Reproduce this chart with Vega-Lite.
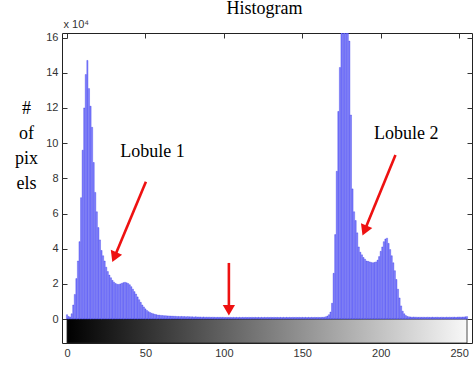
{
  "$schema": "https://vega.github.io/schema/vega-lite/v6.json",
  "width": 410,
  "height": 310,
  "autosize": "none",
  "padding": {"left": 62, "top": 33, "right": 2, "bottom": 39},
  "background": "white",
  "config": {
    "view": {"stroke": "#222", "strokeWidth": 1},
    "font": "Liberation Sans",
    "axis": {"grid": false, "labelFont": "Liberation Sans", "labelFontSize": 11, "labelColor": "#333", "tickColor": "#333", "domain": false}
  },
  "datasets": {
    "one": [{"k": 1}],
    "hist": [
      {"v":0,"n":0.25},{"v":1,"n":0.15},{"v":2,"n":0.12},{"v":3,"n":0.3},{"v":4,"n":0.8},{"v":5,"n":1.4},{"v":6,"n":2.3},{"v":7,"n":3.3},{"v":8,"n":4.4},{"v":9,"n":6.9},
      {"v":10,"n":9.6},{"v":11,"n":12.0},{"v":12,"n":13.9},{"v":13,"n":14.7},{"v":14,"n":13.1},{"v":15,"n":12.1},{"v":16,"n":10.9},{"v":17,"n":8.9},{"v":18,"n":7.2},{"v":19,"n":6.1},
      {"v":20,"n":5.2},{"v":21,"n":4.5},{"v":22,"n":3.9},{"v":23,"n":3.6},{"v":24,"n":3.3},{"v":25,"n":2.95},{"v":26,"n":2.7},{"v":27,"n":2.5},{"v":28,"n":2.35},{"v":29,"n":2.2},
      {"v":30,"n":2.1},{"v":31,"n":2.02},{"v":32,"n":1.98},{"v":33,"n":1.97},{"v":34,"n":2.0},{"v":35,"n":2.03},{"v":36,"n":2.07},{"v":37,"n":2.09},{"v":38,"n":2.06},{"v":39,"n":2.02},
      {"v":40,"n":1.95},{"v":41,"n":1.84},{"v":42,"n":1.7},{"v":43,"n":1.56},{"v":44,"n":1.42},{"v":45,"n":1.26},{"v":46,"n":1.1},{"v":47,"n":0.95},{"v":48,"n":0.8},{"v":49,"n":0.69},
      {"v":50,"n":0.58},{"v":51,"n":0.49},{"v":52,"n":0.42},{"v":53,"n":0.37},{"v":54,"n":0.33},{"v":55,"n":0.3},{"v":56,"n":0.27},{"v":57,"n":0.25},{"v":58,"n":0.23},{"v":59,"n":0.22},
      {"v":60,"n":0.21},{"v":61,"n":0.2},{"v":62,"n":0.19},{"v":63,"n":0.19},{"v":64,"n":0.18},{"v":65,"n":0.18},{"v":66,"n":0.17},{"v":67,"n":0.17},{"v":68,"n":0.16},{"v":69,"n":0.16},
      {"v":70,"n":0.15},{"v":71,"n":0.15},{"v":72,"n":0.14},{"v":73,"n":0.15},{"v":74,"n":0.14},{"v":75,"n":0.14},{"v":76,"n":0.13},{"v":77,"n":0.14},{"v":78,"n":0.13},{"v":79,"n":0.13},
      {"v":80,"n":0.13},{"v":81,"n":0.12},{"v":82,"n":0.13},{"v":83,"n":0.12},{"v":84,"n":0.12},{"v":85,"n":0.12},{"v":86,"n":0.11},{"v":87,"n":0.12},{"v":88,"n":0.11},{"v":89,"n":0.11},
      {"v":90,"n":0.11},{"v":91,"n":0.11},{"v":92,"n":0.1},{"v":93,"n":0.11},{"v":94,"n":0.1},{"v":95,"n":0.1},{"v":96,"n":0.1},{"v":97,"n":0.1},{"v":98,"n":0.1},{"v":99,"n":0.1},
      {"v":100,"n":0.1},{"v":101,"n":0.09},{"v":102,"n":0.1},{"v":103,"n":0.09},{"v":104,"n":0.1},{"v":105,"n":0.09},{"v":106,"n":0.1},{"v":107,"n":0.09},{"v":108,"n":0.1},{"v":109,"n":0.09},
      {"v":110,"n":0.1},{"v":111,"n":0.09},{"v":112,"n":0.1},{"v":113,"n":0.09},{"v":114,"n":0.1},{"v":115,"n":0.09},{"v":116,"n":0.1},{"v":117,"n":0.09},{"v":118,"n":0.1},{"v":119,"n":0.09},
      {"v":120,"n":0.1},{"v":121,"n":0.09},{"v":122,"n":0.1},{"v":123,"n":0.09},{"v":124,"n":0.1},{"v":125,"n":0.09},{"v":126,"n":0.1},{"v":127,"n":0.09},{"v":128,"n":0.1},{"v":129,"n":0.09},
      {"v":130,"n":0.1},{"v":131,"n":0.09},{"v":132,"n":0.1},{"v":133,"n":0.09},{"v":134,"n":0.1},{"v":135,"n":0.09},{"v":136,"n":0.1},{"v":137,"n":0.09},{"v":138,"n":0.1},{"v":139,"n":0.09},
      {"v":140,"n":0.1},{"v":141,"n":0.09},{"v":142,"n":0.1},{"v":143,"n":0.09},{"v":144,"n":0.1},{"v":145,"n":0.09},{"v":146,"n":0.1},{"v":147,"n":0.09},{"v":148,"n":0.1},{"v":149,"n":0.09},
      {"v":150,"n":0.1},{"v":151,"n":0.09},{"v":152,"n":0.1},{"v":153,"n":0.09},{"v":154,"n":0.1},{"v":155,"n":0.09},{"v":156,"n":0.1},{"v":157,"n":0.09},{"v":158,"n":0.1},{"v":159,"n":0.09},
      {"v":160,"n":0.1},{"v":161,"n":0.09},{"v":162,"n":0.1},{"v":163,"n":0.1},{"v":164,"n":0.11},{"v":165,"n":0.13},{"v":166,"n":0.17},{"v":167,"n":0.25},{"v":168,"n":0.4},{"v":169,"n":0.9},
      {"v":170,"n":2.6},{"v":171,"n":4.8},{"v":172,"n":8.4},{"v":173,"n":11.8},{"v":174,"n":14.3},{"v":175,"n":17.5},{"v":176,"n":18.5},{"v":177,"n":18.0},{"v":178,"n":17.2},{"v":179,"n":16.5},
      {"v":180,"n":15.8},{"v":181,"n":11.6},{"v":182,"n":7.4},{"v":183,"n":6.1},{"v":184,"n":5.6},{"v":185,"n":4.9},{"v":186,"n":4.1},{"v":187,"n":3.8},{"v":188,"n":3.65},{"v":189,"n":3.5},
      {"v":190,"n":3.4},{"v":191,"n":3.3},{"v":192,"n":3.28},{"v":193,"n":3.25},{"v":194,"n":3.22},{"v":195,"n":3.2},{"v":196,"n":3.22},{"v":197,"n":3.25},{"v":198,"n":3.35},{"v":199,"n":3.55},
      {"v":200,"n":3.85},{"v":201,"n":4.1},{"v":202,"n":4.4},{"v":203,"n":4.55},{"v":204,"n":4.6},{"v":205,"n":4.3},{"v":206,"n":3.95},{"v":207,"n":3.6},{"v":208,"n":3.2},{"v":209,"n":2.75},
      {"v":210,"n":2.25},{"v":211,"n":1.7},{"v":212,"n":1.2},{"v":213,"n":0.75},{"v":214,"n":0.45},{"v":215,"n":0.3},{"v":216,"n":0.2},{"v":217,"n":0.15},{"v":218,"n":0.13},{"v":219,"n":0.12},
      {"v":220,"n":0.11},{"v":221,"n":0.12},{"v":222,"n":0.11},{"v":223,"n":0.11},{"v":224,"n":0.1},{"v":225,"n":0.11},{"v":226,"n":0.1},{"v":227,"n":0.11},{"v":228,"n":0.1},{"v":229,"n":0.1},
      {"v":230,"n":0.11},{"v":231,"n":0.1},{"v":232,"n":0.1},{"v":233,"n":0.11},{"v":234,"n":0.1},{"v":235,"n":0.1},{"v":236,"n":0.11},{"v":237,"n":0.1},{"v":238,"n":0.1},{"v":239,"n":0.11},
      {"v":240,"n":0.1},{"v":241,"n":0.1},{"v":242,"n":0.11},{"v":243,"n":0.1},{"v":244,"n":0.11},{"v":245,"n":0.1},{"v":246,"n":0.11},{"v":247,"n":0.11},{"v":248,"n":0.1},{"v":249,"n":0.11},
      {"v":250,"n":0.12},{"v":251,"n":0.11},{"v":252,"n":0.12},{"v":253,"n":0.12},{"v":254,"n":0.13},{"v":255,"n":0.14}
    ],
    "arrows": [
      {"x": 50.3, "y": 7.81, "xe": 30.2, "ye": 3.52, "angle": 203},
      {"x": 209.4, "y": 9.32, "xe": 189.7, "ye": 5.03, "angle": 203},
      {"x": 103.2, "y": 3.19, "xe": 103.2, "ye": 0.5, "angle": 180}
    ],
    "labels": [
      {"label": "Lobule 1", "x": 54.5, "y": 9.49},
      {"label": "Lobule 2", "x": 216.3, "y": 10.54}
    ]
  },
  "resolve": {"axis": {"x": "independent", "y": "independent"}},
  "layer": [
    {
      "data": {"name": "one"},
      "mark": {"type": "rect", "stroke": "#222", "strokeWidth": 0.8,
               "fill": {"gradient": "linear", "x1": 0, "y1": 0, "x2": 1, "y2": 0,
                        "stops": [{"offset": 0, "color": "#000000"}, {"offset": 1, "color": "#f8f8f8"}]}},
      "encoding": {
        "x": {"datum": 0, "type": "quantitative", "scale": {"domain": [0, 255], "nice": false, "zero": false},
              "axis": {"orient": "top", "labels": false, "values": [0, 50, 100, 150, 200, 250], "tickSize": -5,
                       "title": "Histogram", "titleFont": "Liberation Serif", "titleFontSize": 18, "titleFontWeight": "normal", "titleColor": "#000",
                       "titleAngle": 0, "titleAlign": "center", "titleBaseline": "alphabetic", "titleX": 202, "titleY": -20}},
        "x2": {"datum": 255},
        "y": {"datum": -1.36, "type": "quantitative", "scale": {"domain": [-1.36, 16.26], "nice": false, "zero": false, "clamp": true},
              "axis": {"orient": "right", "labels": false, "values": [0, 2, 4, 6, 8, 10, 12, 14, 16], "tickSize": -5,
                       "title": "x 10⁴", "titleFont": "Liberation Sans", "titleFontSize": 11, "titleFontWeight": "normal", "titleColor": "#333",
                       "titleAngle": 0, "titleAlign": "left", "titleBaseline": "middle", "titleX": -409, "titleY": -9}},
        "y2": {"datum": 0}
      }
    },
    {
      "data": {"name": "hist"},
      "mark": {"type": "bar", "width": 1.2, "fill": "#8888ff", "stroke": "#1414e0", "strokeWidth": 0.3, "clip": true},
      "encoding": {
        "x": {"field": "v", "type": "quantitative",
              "axis": {"orient": "bottom", "title": null, "values": [0, 50, 100, 150, 200, 250], "tickSize": -5, "labelPadding": 9, "labelFlush": false}},
        "y": {"field": "n", "type": "quantitative",
              "axis": {"orient": "left", "values": [0, 2, 4, 6, 8, 10, 12, 14, 16], "tickSize": -5, "labelPadding": 9, "labelFlush": false,
                       "title": ["#", "of", "pix", "els"], "titleAngle": 0, "titleFont": "Liberation Serif", "titleFontSize": 18, "titleFontWeight": "normal",
                       "titleColor": "#000", "titleAlign": "center", "titleBaseline": "top", "titleX": -36, "titleY": 66, "titleLineHeight": 25}}
      }
    },
    {
      "data": {"name": "arrows"},
      "mark": {"type": "rule", "color": "#ee1111", "strokeWidth": 2.6},
      "encoding": {
        "x": {"field": "x", "type": "quantitative", "axis": null},
        "y": {"field": "y", "type": "quantitative", "axis": null},
        "x2": {"field": "xe"},
        "y2": {"field": "ye"}
      }
    },
    {
      "data": {"name": "arrows"},
      "mark": {"type": "point", "shape": "triangle-up", "filled": true, "color": "#ee1111", "size": 150, "opacity": 1},
      "encoding": {
        "x": {"field": "xe", "type": "quantitative", "axis": null},
        "y": {"field": "ye", "type": "quantitative", "axis": null},
        "angle": {"field": "angle", "type": "quantitative", "scale": null}
      }
    },
    {
      "data": {"name": "labels"},
      "mark": {"type": "text", "font": "Liberation Serif", "fontSize": 18, "color": "#000", "align": "center", "baseline": "middle"},
      "encoding": {
        "x": {"field": "x", "type": "quantitative", "axis": null},
        "y": {"field": "y", "type": "quantitative", "axis": null},
        "text": {"field": "label"}
      }
    }
  ]
}
